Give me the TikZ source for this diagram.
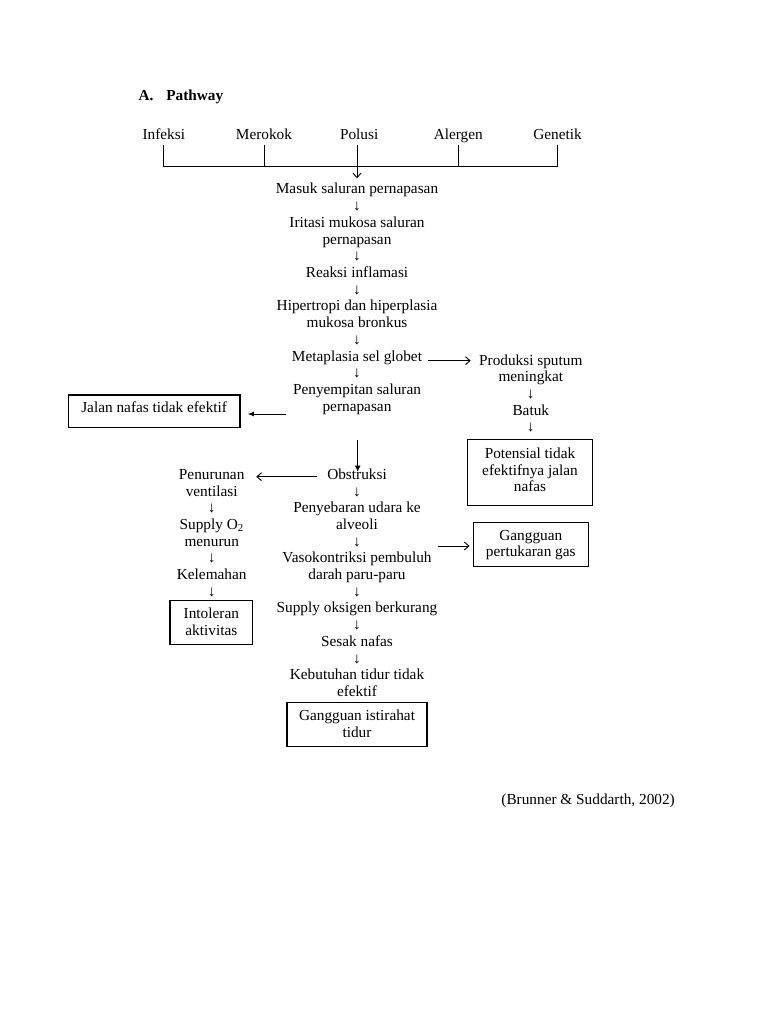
\documentclass[tikz,border=0pt]{standalone}
\usepackage{fontspec}
\setmainfont{Liberation Serif}
\usetikzlibrary{arrows.meta}
\newcommand{\ml}[1]{\begin{tabular}[t]{@{}c@{}}#1\end{tabular}}
\newcommand{\tfont}{\fontsize{15.3}{16.7}\selectfont}
\begin{document}
\begin{tikzpicture}[x=1pt,y=-1pt,
  tx/.style={anchor=base, inner sep=0pt, font=\tfont},
  box/.style={draw, line width=1.1pt, inner sep=0pt, text height=11pt, font=\tfont},
  ln/.style={line width=0.9pt},
  oarr/.style={ln, -{Straight Barb[length=4.5pt,width=8pt]}},
  farr/.style={ln, -{Latex[length=6pt,width=5pt]}},
  tarr/.style={line width=1.5pt, -{Latex[length=6pt,width=6pt]}}]
\fill[white] (0,0) rectangle (768,1024);
\useasboundingbox (0,0) rectangle (768,1024);

% title
\node[tx, anchor=base west, font=\bfseries\tfont] (title) at (138.3,100.7) {A.\hspace{12.9pt}Pathway};

% causes
\node[tx] (inf) at (163.8,140) {Infeksi};
\node[tx] (mer) at (264,140) {Merokok};
\node[tx] (pol) at (359.2,140) {Polusi};
\node[tx] (ale) at (458.3,140) {Alergen};
\node[tx] (gen) at (557.5,140) {Genetik};
\coordinate (bar) at (357.3,166);

% centre column
\node[tx] (masuk) at (357,194) {Masuk saluran pernapasan};
\node[tx] (d1) at (357,210.7) {↓};
\node[tx] (irit) at (357,227.4) {\ml{Iritasi mukosa saluran\\pernapasan}};
\node[tx] (d2) at (357,260.8) {↓};
\node[tx] (reak) at (357,277.5) {Reaksi inflamasi};
\node[tx] (d3) at (357,294.2) {↓};
\node[tx] (hiper) at (357,310.9) {\ml{Hipertropi dan hiperplasia\\mukosa bronkus}};
\node[tx] (d4) at (357,344.3) {↓};
\node[tx] (meta) at (357,361) {Metaplasia sel globet};
\node[tx] (d5) at (357,377.7) {↓};
\node[tx] (peny) at (357,394.4) {\ml{Penyempitan saluran\\pernapasan}};
\node[tx] (obs) at (357,479.3) {Obstruksi};
\node[tx] (d6) at (357,496) {↓};
\node[tx] (sebar) at (357,512.7) {\ml{Penyebaran udara ke\\alveoli}};
\node[tx] (d7) at (357,546.1) {↓};
\node[tx] (vaso) at (357,562.8) {\ml{Vasokontriksi pembuluh\\darah paru-paru}};
\node[tx] (d8) at (357,596.2) {↓};
\node[tx] (supox) at (357,612.9) {Supply oksigen berkurang};
\node[tx] (d9) at (357,629.6) {↓};
\node[tx] (sesak) at (357,646.3) {Sesak nafas};
\node[tx] (d10) at (357,663) {↓};
\node[tx] (kebut) at (357,679.7) {\ml{Kebutuhan tidur tidak\\efektif}};
\node[box, minimum width=140pt, minimum height=44.4pt, text depth=18.6pt] (gis) at (357,724.5) {\ml{Gangguan istirahat\\tidur}};

% left column
\node[box, minimum width=171.7pt, minimum height=32.3pt, text depth=8.7pt] (jalan) at (154.15,411.15) {Jalan nafas tidak efektif};
\node[tx] (penur) at (211.7,479.3) {\ml{Penurunan\\ventilasi}};
\node[tx] (dl1) at (211.7,512.7) {↓};
\node[tx] (supo) at (211.7,529.4) {\ml{Supply O\textsubscript{2}\\menurun}};
\node[tx] (dl2) at (211.7,562.8) {↓};
\node[tx] (kelem) at (211.7,579.5) {Kelemahan};
\node[tx] (dl3) at (211.7,596.2) {↓};
\node[box, minimum width=82.7pt, minimum height=43.6pt, text depth=19.4pt] (into) at (211.35,622.5) {\ml{Intoleran\\aktivitas}};

% right column
\node[tx] (prod) at (530.8,365) {\ml{Produksi sputum\\meningkat}};
\node[tx] (dr1) at (530.8,398.4) {↓};
\node[tx] (batuk) at (530.8,415.1) {Batuk};
\node[tx] (dr2) at (530.8,431.8) {↓};
\node[box, minimum width=125.4pt, minimum height=66.4pt, text depth=39.4pt] (pot) at (530,472.5) {\ml{Potensial tidak\\efektifnya jalan\\nafas}};
\node[box, minimum width=115pt, minimum height=44pt, text depth=20.4pt] (gpg) at (530.8,544.7) {\ml{Gangguan\\pertukaran gas}};

% reference
\node[tx, anchor=base east] (ref) at (675,804) {(Brunner \& Suddarth, 2002)};

% bracket of causes
\draw[ln] ([yshift=-5pt]inf.base) -- (inf.base |- bar) -- (gen.base |- bar) -- ([yshift=-5pt]gen.base);
\draw[ln] ([yshift=-5pt]mer.base) -- (mer.base |- bar);
\draw[ln] ([yshift=-5pt]ale.base) -- (ale.base |- bar);
\coordinate (pa) at ([yshift=-5pt]pol.base);
\draw[oarr] (pa -| masuk.base) -- ([yshift=15.7pt]masuk.base);

% connectors
\coordinate (mp) at (428.3,360.7);
\draw[oarr, shorten >=8.3pt] (mp) -- (mp -| prod.west);
\coordinate (ja) at (286,414);
\draw[farr, shorten >=7.3pt] (ja) -- (ja -| jalan.east);
\coordinate (th) at (357.7,440);
\draw[tarr, shorten >=7.6pt] (th) -- (th |- obs.base);
\coordinate (ob) at (317.3,476.7);
\draw[oarr, shorten >=11.7pt] (ob) -- (ob -| penur.east);
\coordinate (vg) at (438.3,546);
\draw[oarr, shorten >=3.3pt] (vg) -- (vg -| gpg.west);
\end{tikzpicture}
\end{document}
